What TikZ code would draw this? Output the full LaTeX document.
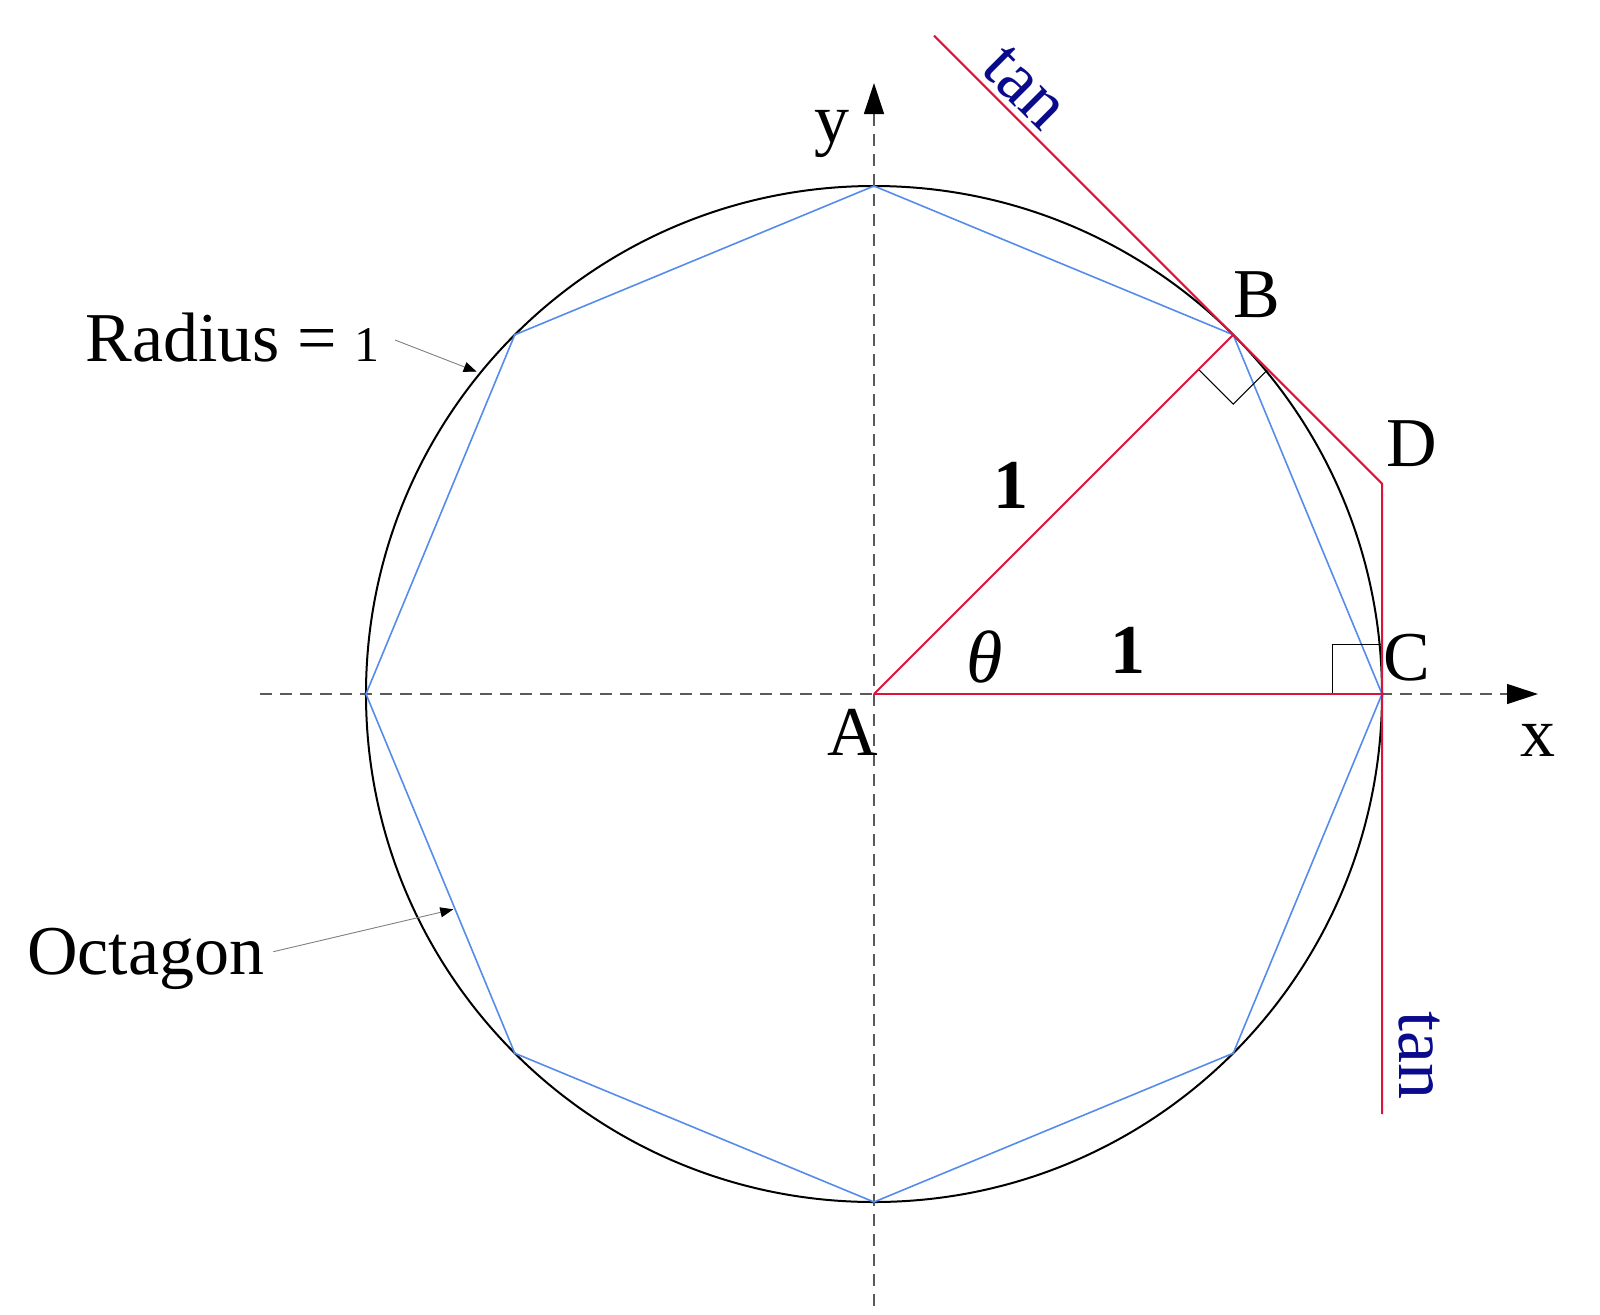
\documentclass[tikz,border=0pt]{standalone}
\usepackage{fontspec}
\setmainfont{Liberation Serif}
\usetikzlibrary{arrows.meta,calc}
\definecolor{redline}{RGB}{220,20,60}
\definecolor{octblue}{RGB}{85,140,235}
\definecolor{navytext}{RGB}{10,10,140}
\definecolor{axisgrey}{RGB}{90,90,90}
\begin{document}
\begin{tikzpicture}[x=0.5pt,y=0.5pt,
  lbl/.style={font=\fontsize{35}{40}\selectfont, inner sep=0pt, anchor=base},
  bnum/.style={font=\fontsize{35}{40}\selectfont\bfseries, inner sep=0pt, anchor=base},
  tanlbl/.style={font=\fontsize{36}{40}\selectfont, text=navytext, inner sep=0pt},
  axisline/.style={axisgrey, line width=0.6pt, dash pattern=on 6pt off 4pt,
    -{Triangle[length=15.5pt,width=10pt,black]}},
  redln/.style={redline, line width=1pt},
  octln/.style={octblue, line width=0.8pt},
  ramark/.style={black, line width=0.5pt},
  pointer/.style={gray, line width=0.45pt, -{Triangle[length=6.5pt,width=5pt,black]}}]
\useasboundingbox (-874,-620) rectangle (726,694);
% key points
\coordinate (A) at (0,0);
\coordinate (B) at (45:508);
\coordinate (C) at (508,0);
\coordinate (D) at (508,210.4);
\coordinate (T) at (60,658.4);
\coordinate (E) at (508,-420);
% axes
\coordinate (xs) at (-614,0);
\coordinate (xe) at (664,0);
\coordinate (ys) at (0,-612);
\coordinate (ye) at (0,611);
\draw[axisline] (xs) -- (xe);
\draw[axisline] (ys) -- (ye);
% circle
\draw[black, line width=1pt] (A) circle[radius=508];
% octagon
\foreach \k in {0,...,7} { \coordinate (P\k) at (\k*45:508); }
\draw[octln] (P0) -- (P1) -- (P2) -- (P3) -- (P4) -- (P5) -- (P6) -- (P7) -- cycle;
% right angle marks
\coordinate (rb1) at ($(B)+(-34.65,-34.65)$);
\coordinate (rb2) at ($(B)+(0,-69.3)$);
\coordinate (rb3) at ($(B)+(34.65,-34.65)$);
\coordinate (rc1) at (458,0);
\coordinate (rc2) at (458,50);
\coordinate (rc3) at (508,50);
\draw[ramark] (rb1) -- (rb2) -- (rb3);
\draw[ramark] (rc1) -- (rc2) -- (rc3);
% red lines
\draw[redln] (A) -- (B);
\draw[redln] (A) -- (C);
\draw[redln, line join=miter] (T) -- (D) -- (E);
% labels
\node[lbl] (lA) at (-21.5,-61) {A};
\node[lbl] (lB) at (383,376.7) {B};
\node[lbl] (lC) at (533,14) {C};
\node[lbl] (lD) at (537.3,227.3) {D};
\node[lbl] (lx) at (663.8,-62.7) {x};
\node[lbl] (ly) at (-42.3,552) {y};
\node[font=\fontsize{37}{40}\selectfont\itshape, inner sep=0pt] (lth) at (111,37.3) {θ};
\node[bnum] (one1) at (136.8,185.7) {1};
\node[bnum] (one2) at (253.5,20.7) {1};
\node[tanlbl, rotate=-45] (tan1) at (151,606) {tan};
\node[tanlbl, rotate=-90] (tan2) at (545,-361.5) {tan};
\node[lbl, anchor=base west] (rad) at (-789,332.3) {Radius = {\fontsize{25}{30}\selectfont 1}};
\node[lbl, anchor=base west] (oct) at (-847.3,-280) {Octagon};
% pointers
\coordinate (r1) at (-479,354);
\coordinate (r2) at (-397.3,322.3);
\coordinate (o1) at (-600.7,-257.7);
\coordinate (o2) at (-420.7,-215.3);
\draw[pointer] (r1) -- (r2);
\draw[pointer] (o1) -- (o2);
\end{tikzpicture}
\end{document}
